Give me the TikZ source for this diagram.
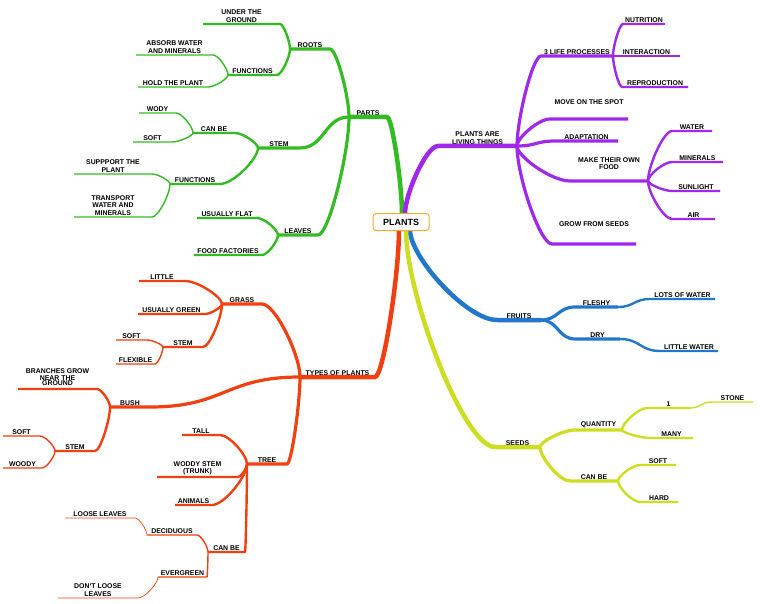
\documentclass[tikz,border=0pt]{standalone}
\usepackage{fontspec}
\setmainfont{Liberation Sans}
\usetikzlibrary{calc}
\newcommand\mm[5]{%
  \coordinate (#1-a) at (#2,#4); \coordinate (#1-j) at (#3,#4);
  \node[lbl] (#1) at ($(#1-a)!.5!(#1-j)$) {#5};}
\begin{document}
\begin{tikzpicture}[x=1pt,y=-1pt]

	%DEFINICIONES
	\tikzstyle{lbl} = [anchor=south, align=center, inner sep=1.5pt, font=\bfseries\fontsize{6.9}{7.4}\selectfont]
	\tikzstyle{lnk} = [to path={.. controls ($(\tikztostart)!.3!(\tikztostart|-\tikztotarget)$) and ($(\tikztotarget)!.35!(\tikztostart|-\tikztotarget)$) .. (\tikztotarget)}]
	\tikzstyle{slnk} = [to path={.. controls ($(\tikztostart)!.5!(\tikztostart-|\tikztotarget)$) and ($(\tikztotarget)!.5!(\tikztotarget-|\tikztostart)$) .. (\tikztotarget)}]
	\tikzstyle{wa} = [line width=4.5pt, line join=round]
	\tikzstyle{wb} = [line width=3.2pt, line join=round]
	\tikzstyle{wc} = [line width=2.4pt, line join=round]
	\tikzstyle{wd} = [line width=1.4pt, line join=round]
	\tikzstyle{we} = [line width=0.7pt, line join=round]
	\definecolor{cgrn}{RGB}{51,187,34}
	\definecolor{cpur}{RGB}{160,40,235}
	\definecolor{cblu}{RGB}{34,119,204}
	\definecolor{cyel}{RGB}{204,221,34}
	\definecolor{cred}{RGB}{240,64,16}
	\definecolor{corg}{RGB}{245,170,50}

	\useasboundingbox (0,0) rectangle (765,604);

	%NODOS
	\mm{parts}{387}{349}{117}{PARTS}
	\mm{roots}{330}{290}{49}{ROOTS}
	\mm{under}{280}{203}{24}{UNDER THE\\GROUND}
	\mm{rfun}{277}{228}{75}{FUNCTIONS}
	\mm{absorb}{213}{136}{55}{ABSORB WATER\\AND MINERALS}
	\mm{hold}{208}{138}{87}{HOLD THE PLANT}
	\mm{stem}{300}{258}{148}{STEM}
	\mm{scan}{235}{193}{133}{CAN BE}
	\mm{wody}{176}{139}{113}{WODY}
	\mm{ssoft}{172}{133}{142}{SOFT}
	\mm{sfun}{220}{170}{184}{FUNCTIONS}
	\mm{support}{152}{74}{174}{SUPPPORT THE\\PLANT}
	\mm{transport}{152}{74}{217}{TRANSPORT\\WATER AND\\MINERALS}
	\mm{leaves}{318}{278}{235}{LEAVES}
	\mm{flat}{257}{197}{218}{USUALLY FLAT}
	\mm{food}{262}{194}{255}{FOOD FACTORIES}

	\mm{living}{438}{517}{146}{PLANTS ARE\\LIVING THINGS}
	\mm{life}{541}{613}{56}{3 LIFE PROCESSES}
	\mm{nutri}{623}{665}{24}{NUTRITION}
	\mm{inter}{613}{680}{56}{INTERACTION}
	\mm{repro}{622}{688}{87}{REPRODUCTION}
	\mm{move}{550}{628}{119}{MOVE ON THE SPOT\\[5pt]}
	\mm{adapt}{555}{618}{141}{ADAPTATION}
	\mm{make}{570}{648}{181}{MAKE THEIR OWN\\FOOD\\[2pt]}
	\mm{water}{672}{712}{131}{WATER}
	\mm{miner}{672}{723}{162}{MINERALS}
	\mm{sun}{672}{720}{191}{SUNLIGHT}
	\mm{air}{672}{715}{219}{AIR}
	\mm{grow}{552}{636}{244}{GROW FROM SEEDS\\[8pt]}

	\mm{fruits}{497}{541}{320}{FRUITS}
	\mm{fleshy}{575}{618}{307}{FLESHY}
	\mm{dry}{575}{620}{339}{DRY}
	\mm{lots}{650}{715}{299}{LOTS OF WATER}
	\mm{lwater}{660}{718}{351}{LITTLE WATER}

	\mm{seeds}{495}{540}{447}{SEEDS}
	\mm{quant}{575}{622}{430}{QUANTITY}
	\mm{one}{647}{690}{408}{1}
	\mm{stone}{712}{753}{402}{STONE}
	\mm{many}{650}{693}{438}{MANY}
	\mm{seedcan}{570}{618}{481}{CAN BE}
	\mm{seedsoft}{640}{676}{465}{SOFT}
	\mm{hard}{640}{678}{502}{HARD}

	\mm{types}{375}{300}{377}{TYPES OF PLANTS}
	\mm{grass}{262}{222}{304}{GRASS}
	\mm{little}{185}{139}{281}{LITTLE}
	\mm{green}{205}{138}{314}{USUALLY GREEN}
	\mm{gstem}{203}{163}{347}{STEM}
	\mm{gsoft}{147}{116}{340}{SOFT}
	\mm{flex}{155}{116}{364}{FLEXIBLE}
	\mm{bush}{150}{110}{407}{BUSH}
	\mm{branch}{97}{18}{389}{BRANCHES GROW\\NEAR THE\\[-2pt]GROUND\\[-6pt]}
	\mm{bstem}{95}{55}{451}{STEM}
	\mm{bsoft}{40}{3}{436}{SOFT}
	\mm{woody}{42}{3}{468}{WOODY}
	\mm{tree}{287}{247}{464}{TREE}
	\mm{tall}{220}{182}{435}{TALL}
	\mm{trunk}{238}{157}{477}{WODDY STEM\\(TRUNK)}
	\mm{animals}{212}{175}{505}{ANIMALS}
	\mm{tcan}{245}{208}{552}{CAN BE}
	\mm{decid}{197}{147}{535}{DECIDUOUS}
	\mm{loose}{135}{65}{518}{LOOSE LEAVES}
	\mm{ever}{207}{158}{577}{EVERGREEN}
	\mm{dont}{138}{58}{598}{DON`T LOOSE\\LEAVES}

	%RAMAS
	\draw[cgrn, wb] (parts-j) to[lnk] (roots-a) -- (roots-j);
	\draw[cgrn, wc] (roots-j) to[lnk] (under-a) -- (under-j);
	\draw[cgrn, wc] (roots-j) to[lnk] (rfun-a) -- (rfun-j);
	\draw[cgrn, wd] (rfun-j) to[lnk] (absorb-a) -- (absorb-j);
	\draw[cgrn, wd] (rfun-j) to[lnk] (hold-a) -- (hold-j);
	\draw[cgrn, wb] (parts-j) to[slnk] (stem-a) -- (stem-j);
	\draw[cgrn, wc] (stem-j) to[lnk] (scan-a) -- (scan-j);
	\draw[cgrn, wd] (scan-j) to[lnk] (wody-a) -- (wody-j);
	\draw[cgrn, wd] (scan-j) to[lnk] (ssoft-a) -- (ssoft-j);
	\draw[cgrn, wc] (stem-j) to[lnk] (sfun-a) -- (sfun-j);
	\draw[cgrn, wd] (sfun-j) to[lnk] (support-a) -- (support-j);
	\draw[cgrn, wd] (sfun-j) to[lnk] (transport-a) -- (transport-j);
	\draw[cgrn, wb] (parts-j) to[lnk] (leaves-a) -- (leaves-j);
	\draw[cgrn, wc] (leaves-j) to[lnk] (flat-a) -- (flat-j);
	\draw[cgrn, wc] (leaves-j) to[lnk] (food-a) -- (food-j);

	\draw[cpur, wb] (living-j) to[lnk] (life-a) -- (life-j);
	\draw[cpur, wc] (life-j) to[lnk] (nutri-a) -- (nutri-j);
	\draw[cpur, wc] (life-j) -- (inter-j);
	\draw[cpur, wc] (life-j) to[lnk] (repro-a) -- (repro-j);
	\draw[cpur, wb] (living-j) to[lnk] (move-a) -- (move-j);
	\draw[cpur, wb] (living-j) to[slnk] (adapt-a) -- (adapt-j);
	\draw[cpur, wb] (living-j) to[lnk] (make-a) -- (make-j);
	\draw[cpur, wc] (make-j) to[lnk] (water-a) -- (water-j);
	\draw[cpur, wc] (make-j) to[lnk] (miner-a) -- (miner-j);
	\draw[cpur, wc] (make-j) to[lnk] (sun-a) -- (sun-j);
	\draw[cpur, wc] (make-j) to[lnk] (air-a) -- (air-j);
	\draw[cpur, wb] (living-j) to[lnk] (grow-a) -- (grow-j);

	\draw[cblu, wb] (fruits-j) to[slnk] (fleshy-a) -- (fleshy-j);
	\draw[cblu, wb] (fruits-j) to[slnk] (dry-a) -- (dry-j);
	\draw[cblu, wc] (fleshy-j) to[slnk] (lots-a) -- (lots-j);
	\draw[cblu, wc] (dry-j) to[slnk] (lwater-a) -- (lwater-j);

	\draw[cyel, wb] (seeds-j) to[lnk] (quant-a) -- (quant-j);
	\draw[cyel, wc] (quant-j) to[lnk] (one-a) -- (one-j);
	\draw[cyel, wd] (one-j) to[slnk] (stone-a) -- (stone-j);
	\draw[cyel, wc] (quant-j) to[lnk] (many-a) -- (many-j);
	\draw[cyel, wb] (seeds-j) to[lnk] (seedcan-a) -- (seedcan-j);
	\draw[cyel, wc] (seedcan-j) to[lnk] (seedsoft-a) -- (seedsoft-j);
	\draw[cyel, wc] (seedcan-j) to[lnk] (hard-a) -- (hard-j);

	\draw[cred, wb] (types-j) to[lnk] (grass-a) -- (grass-j);
	\draw[cred, wc] (grass-j) to[lnk] (little-a) -- (little-j);
	\draw[cred, wc] (grass-j) to[lnk] (green-a) -- (green-j);
	\draw[cred, wc] (grass-j) to[lnk] (gstem-a) -- (gstem-j);
	\draw[cred, wd] (gstem-j) to[lnk] (gsoft-a) -- (gsoft-j);
	\draw[cred, wd] (gstem-j) to[lnk] (flex-a) -- (flex-j);
	\draw[cred, wb] (types-j) to[slnk] (bush-a) -- (bush-j);
	\draw[cred, wc] (bush-j) to[lnk] (branch-a) -- (branch-j);
	\draw[cred, wc] (bush-j) to[lnk] (bstem-a) -- (bstem-j);
	\draw[cred, wd] (bstem-j) to[lnk] (bsoft-a) -- (bsoft-j);
	\draw[cred, wd] (bstem-j) to[lnk] (woody-a) -- (woody-j);
	\draw[cred, wb] (types-j) to[lnk] (tree-a) -- (tree-j);
	\draw[cred, wc] (tree-j) to[lnk] (tall-a) -- (tall-j);
	\draw[cred, wc] (tree-j) to[lnk] (trunk-a) -- (trunk-j);
	\draw[cred, wc] (tree-j) to[lnk] (animals-a) -- (animals-j);
	\draw[cred, wc] (tree-j) to[lnk] (tcan-a) -- (tcan-j);
	\draw[cred, wd] (tcan-j) to[lnk] (decid-a) -- (decid-j);
	\draw[cred, we] (decid-j) to[lnk] (loose-a) -- (loose-j);
	\draw[cred, wd] (tcan-j) to[lnk] (ever-a) -- (ever-j);
	\draw[cred, we] (ever-j) to[lnk] (dont-a) -- (dont-j);

	%CENTRO
	\coordinate (cg) at (402,214); \coordinate (cp) at (405,214);
	\coordinate (cb) at (410,230); \coordinate (cy) at (406,230);
	\coordinate (cr) at (399,230);
	\draw[cgrn, wa] (cg) to[lnk] (parts-a) -- (parts-j);
	\draw[cpur, wa] (cp) to[lnk] (living-a) -- (living-j);
	\draw[cblu, wa] (cb) to[lnk] (fruits-a) -- (fruits-j);
	\draw[cyel, wa] (cy) to[lnk] (seeds-a) -- (seeds-j);
	\draw[cred, wa] (cr) to[lnk] (types-a) -- (types-j);
	\node[draw=corg, fill=white, line width=1pt, rounded corners=3pt, minimum width=56pt, minimum height=17pt, font=\bfseries\fontsize{9}{10}\selectfont] (plants) at (401,222) {PLANTS};
\end{tikzpicture}
\end{document}
